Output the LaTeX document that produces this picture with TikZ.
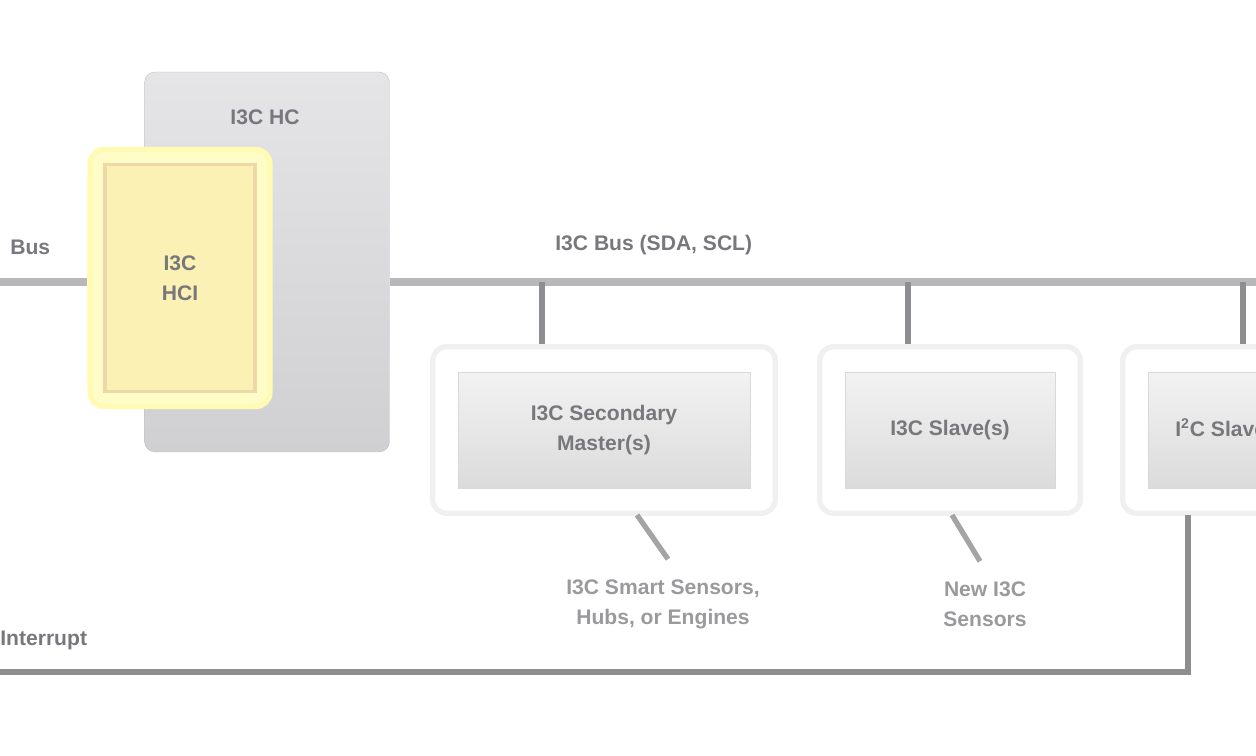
\documentclass[tikz,border=0pt]{standalone}
\usepackage{fontspec}
\setmainfont{Liberation Sans}
\usepackage{tikz}
\usetikzlibrary{positioning,fit,backgrounds}
\definecolor{busgray}{HTML}{B8B8BA}
\definecolor{linegray}{HTML}{8E8E90}
\definecolor{txtgray}{HTML}{78787C}
\definecolor{boxgray}{HTML}{D0D0D3}
\definecolor{hciyellow}{HTML}{FBF1B4}

\begin{document}
\begin{tikzpicture}[x=0.02cm,y=-0.02cm,
      lbl/.style={
         text=txtgray,
         font=\bfseries\fontsize{12}{17}\selectfont,
         align=center,
         inner sep=0pt},
      hcbox/.style={
         rectangle,
         rounded corners=6pt,
         top color=boxgray!55!white,
         bottom color=boxgray,
         draw=boxgray!90!black,
         very thin,
         minimum width=4.9cm,
         minimum height=7.6cm},
      hcibox/.style={
         rectangle,
         fill=hciyellow,
         draw=hciyellow!70!brown!80,
         line width=2pt,
         minimum width=3cm,
         minimum height=4.54cm},
      glowbox/.style={
         rectangle,
         rounded corners=8pt,
         fill=yellow!22!white,
         draw=yellow!30!white,
         line width=3pt,
         minimum width=3.6cm,
         minimum height=5.14cm},
      devbox/.style={
         rectangle,
         top color=gray!10,
         bottom color=gray!28,
         draw=gray!30,
         minimum height=2.32cm},
      framebox/.style={
         rectangle,
         rounded corners=8pt,
         draw=gray!12,
         line width=3pt,
         fill=white,
         inner sep=0.5cm},
      bus/.style={busgray,line width=5pt},
      drop/.style={linegray,line width=3.5pt},
      tick/.style={linegray!80,line width=3pt}
      ]
      \useasboundingbox (0,0) rectangle (1256,756);
      \clip (0,0) rectangle (1256,756);

      % host side
      \node[hcbox] (hc) at (267,262) {};
      \node[lbl] (hclbl) at (265,117) {I3C HC};
      \node[glowbox] (glow) at (180,278) {};
      \node[hcibox] (hci) at (180,278) {};
      \node[lbl] (hcilbl) at (hci) {I3C\\HCI};

      % bus
      \coordinate (busL) at (0,282);
      \coordinate (busR) at (1256,282);
      \draw[bus] (busL) -- (busL -| glow.west);
      \draw[bus] (hc.east |- busR) -- (busR);
      \node[lbl, anchor=south west] (buslbl) at (555,255) {I3C Bus (SDA, SCL)};
      \node[lbl, anchor=south west] (leftlbl) at (10,255) {Bus};

      % devices
      \node[devbox, minimum width=5.84cm] (sec) at (604,430) {};
      \node[lbl] (seclbl) at (sec) {I3C Secondary\\Master(s)};
      \node[devbox, minimum width=4.2cm] (dev) at (950,430) {};
      \node[lbl] (devlbl) at (dev) {I3C Slave(s)};
      \node[devbox, minimum width=4.2cm] (leg) at (1253,430) {};
      \node[lbl, anchor=west] (leglbl) at (1175,430) {I\textsuperscript{2}C Slave(s)};

      \begin{scope}[on background layer]
         \foreach \b in {sec,dev,leg}
            \node[framebox, fit=(\b)] (\b f) {};
      \end{scope}

      \foreach \f/\x in {secf/542, devf/908, legf/1243}
         \draw[drop] (\x,282) -- (\f.north -| \x,0);

      % sensors below
      \node[lbl, text=txtgray!75] (ssh) at (663,604) {I3C Smart Sensors,\\Hubs, or Engines};
      \node[lbl, text=txtgray!75] (nsens) at (985,604) {New I3C\\Sensors};
      \coordinate (t1) at (637,515);
      \coordinate (t2) at (952,515);
      \draw[tick] (t1) -- ([shift={(5,-20)}]ssh.north);
      \draw[tick] (t2) -- ([shift={(-5,-20)}]nsens.north);

      % interrupt line
      \coordinate (irq) at (1188,515);
      \draw[drop] (irq) -- (1188,672) -- (0,672);
      \node[lbl, anchor=south west] (irqlbl) at (0,650) {Interrupt};
\end{tikzpicture}
\end{document}
